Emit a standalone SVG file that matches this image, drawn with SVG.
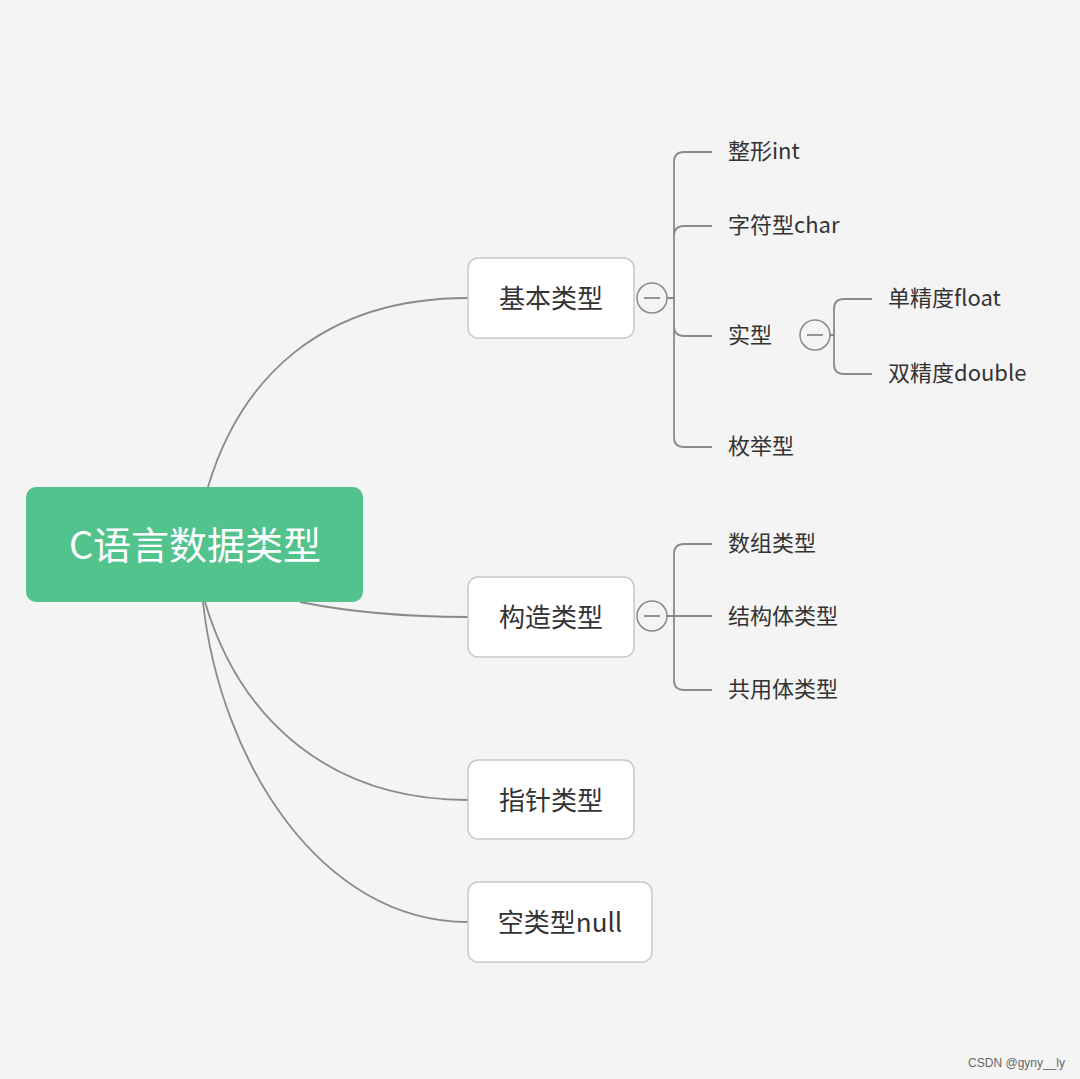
<svg xmlns="http://www.w3.org/2000/svg" width="1080" height="1079" viewBox="0 0 1080 1079">
<style>
.c{fill:none;stroke:#8a8a8a;stroke-width:1.8}
.b{fill:#fff;stroke:#c8c8c8;stroke-width:1.5}
.t{font-family:"Noto Sans CJK SC","Noto Sans",sans-serif;fill:#333}
.n{font-size:26px;text-anchor:middle}
.l{font-size:22px}
.k{fill:#f4f4f4;stroke:#8a8a8a;stroke-width:1.5}
</style>
<rect width="1080" height="1079" fill="#f4f4f4"/>
<g id="connectors">
<path class="c" d="M208,487 C240,380 320,298 468,298"/>
<path class="c" d="M300,602 C350,612 400,617 468,617"/>
<path class="c" d="M205,602 C240,720 330,800 468,800"/>
<path class="c" d="M203,602 C220,760 320,922 468,922"/>
<path class="c" d="M667,298 H674 M712,152 H684 Q674,152 674,162 V437 Q674,447 684,447 H712 M674,236 Q674,226 684,226 H712 M674,326 Q674,336 684,336 H712"/>
<path class="c" d="M830,335 H834 M872,299 H844 Q834,299 834,309 V364 Q834,374 844,374 H872"/>
<path class="c" d="M667,616 H712 M712,544 H684 Q674,544 674,554 V680 Q674,690 684,690 H712"/>
</g>
<g id="root"><rect x="26" y="487" width="337" height="115" rx="10" fill="#52c38c"/><text x="195" y="559" class="t" style="font-size:38px;fill:#fff;text-anchor:middle">C语言数据类型</text></g>
<g id="basic"><rect class="b" x="468" y="258" width="166" height="80" rx="10"/><text class="t n" x="551" y="308">基本类型</text><circle class="k" cx="652" cy="298" r="15"/><path class="c" d="M644,298 H660"/></g>
<g id="struct"><rect class="b" x="468" y="577" width="166" height="80" rx="10"/><text class="t n" x="551" y="627">构造类型</text><circle class="k" cx="652" cy="616" r="15"/><path class="c" d="M644,616 H660"/></g>
<g id="ptr"><rect class="b" x="468" y="760" width="166" height="79" rx="10"/><text class="t n" x="551" y="810">指针类型</text></g>
<g id="void"><rect class="b" x="468" y="882" width="184" height="80" rx="10"/><text class="t n" x="560" y="932">空类型null</text></g>
<g id="int"><text class="t l" x="728" y="159">整形int</text></g>
<g id="char"><text class="t l" x="728" y="233">字符型char</text></g>
<g id="real"><text class="t l" x="728" y="343">实型</text><circle class="k" cx="815" cy="335" r="15"/><path class="c" d="M807,335 H823"/></g>
<g id="float"><text class="t l" x="888" y="306">单精度float</text></g>
<g id="double"><text class="t l" x="888" y="381">双精度double</text></g>
<g id="enum"><text class="t l" x="728" y="454">枚举型</text></g>
<g id="array"><text class="t l" x="728" y="551">数组类型</text></g>
<g id="structure"><text class="t l" x="728" y="624">结构体类型</text></g>
<g id="union"><text class="t l" x="728" y="697">共用体类型</text></g>
<text x="1065" y="1067" style="font-family:'Liberation Sans',sans-serif;font-size:12px;fill:#666;text-anchor:end">CSDN @gyny__ly</text>
</svg>
